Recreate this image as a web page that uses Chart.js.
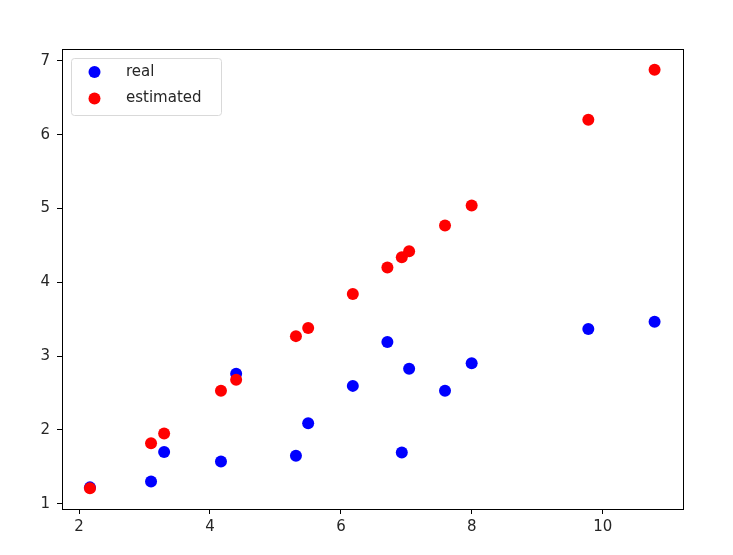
<!DOCTYPE html>
<html>
<head>
<meta charset="utf-8">
<script src="https://cdn.jsdelivr.net/npm/chart.js@4/dist/chart.umd.min.js"></script>
<style>
  html, body { margin: 0; padding: 0; background: #fff; }
  #wrap { width: 733px; height: 555px; }
</style>
</head>
<body>
<div id="wrap"><canvas id="myChart" width="733" height="555"></canvas></div>
<script>
const xTrain = [3.3, 4.4, 5.5, 6.71, 6.93, 4.168, 9.779, 6.182, 7.59, 2.167, 7.042, 10.791, 5.313, 7.997, 3.1];
const yReal = [1.7, 2.76, 2.09, 3.19, 1.694, 1.573, 3.366, 2.596, 2.53, 1.221, 2.827, 3.465, 1.65, 2.904, 1.3];
const yEstimated = [1.95, 2.68, 3.38, 4.20, 4.34, 2.53, 6.20, 3.84, 4.77, 1.21, 4.42, 6.88, 3.27, 5.04, 1.82];
const xTicks = [2, 4, 6, 8, 10];
const yTicks = [1, 2, 3, 4, 5, 6, 7];

const toPoints = (xs, ys) => xs.map((x, i) => ({ x: x, y: ys[i] }));

// box around the plot + legend drawn inside the axes like matplotlib
const framePlugin = {
  id: 'frame',
  afterDraw(chart) {
    const { ctx, chartArea: a } = chart;
    ctx.save();
    ctx.strokeStyle = '#000';
    ctx.lineWidth = 1;
    ctx.strokeRect(a.left + 0.5, a.top + 0.5, a.right - a.left, a.bottom - a.top);

    const lx = a.left + 9, ly = a.top + 9, lw = 150, lh = 57;
    ctx.fillStyle = 'rgba(255,255,255,0.8)';
    ctx.strokeStyle = '#d9d9d9';
    ctx.beginPath();
    ctx.roundRect(lx + 0.5, ly + 0.5, lw, lh, 3);
    ctx.fill();
    ctx.stroke();

    const items = [['real', 'blue'], ['estimated', 'red']];
    ctx.font = '15px "DejaVu Sans"';
    ctx.textBaseline = 'middle';
    items.forEach(([label, color], i) => {
      const cy = ly + 14 + i * 26.5;
      ctx.fillStyle = color;
      ctx.beginPath();
      ctx.arc(lx + 23.5, cy, 6, 0, Math.PI * 2);
      ctx.fill();
      ctx.fillStyle = '#262626';
      ctx.fillText(label, lx + 55, cy);
    });
    ctx.restore();
  }
};

const ctx = document.getElementById('myChart').getContext('2d');
const chart = new Chart(ctx, {
  type: 'scatter',
  data: {
    datasets: [
      {
        label: 'real',
        data: toPoints(xTrain, yReal),
        backgroundColor: 'blue',
        borderWidth: 0,
        pointRadius: 6,
        order: 2
      },
      {
        label: 'estimated',
        data: toPoints(xTrain, yEstimated),
        backgroundColor: 'red',
        borderWidth: 0,
        pointRadius: 6,
        order: 1
      }
    ]
  },
  options: {
    responsive: false,
    animation: false,
    layout: { padding: { top: 49, right: 50, left: 0, bottom: 0 } },
    plugins: {
      legend: { display: false },
      tooltip: { enabled: false }
    },
    scales: {
      x: {
        type: 'linear',
        min: 1.74,
        max: 11.225,
        afterBuildTicks: s => { s.ticks = xTicks.map(v => ({ value: v })); },
        afterFit: s => { s.height = 46; },
        grid: { drawOnChartArea: false, tickLength: 5, color: '#000', tickColor: '#000' },
        border: { color: '#000' },
        ticks: { color: '#262626', font: { family: 'DejaVu Sans', size: 15 }, padding: 4, maxRotation: 0 }
      },
      y: {
        type: 'linear',
        min: 0.928,
        max: 7.16,
        afterBuildTicks: s => { s.ticks = yTicks.map(v => ({ value: v })); },
        afterFit: s => { s.width = 62; },
        grid: { drawOnChartArea: false, tickLength: 5, color: '#000', tickColor: '#000' },
        border: { color: '#000' },
        ticks: { color: '#262626', font: { family: 'DejaVu Sans', size: 15 }, padding: 7 }
      }
    }
  },
  plugins: [framePlugin]
});
</script>
</body>
</html>
